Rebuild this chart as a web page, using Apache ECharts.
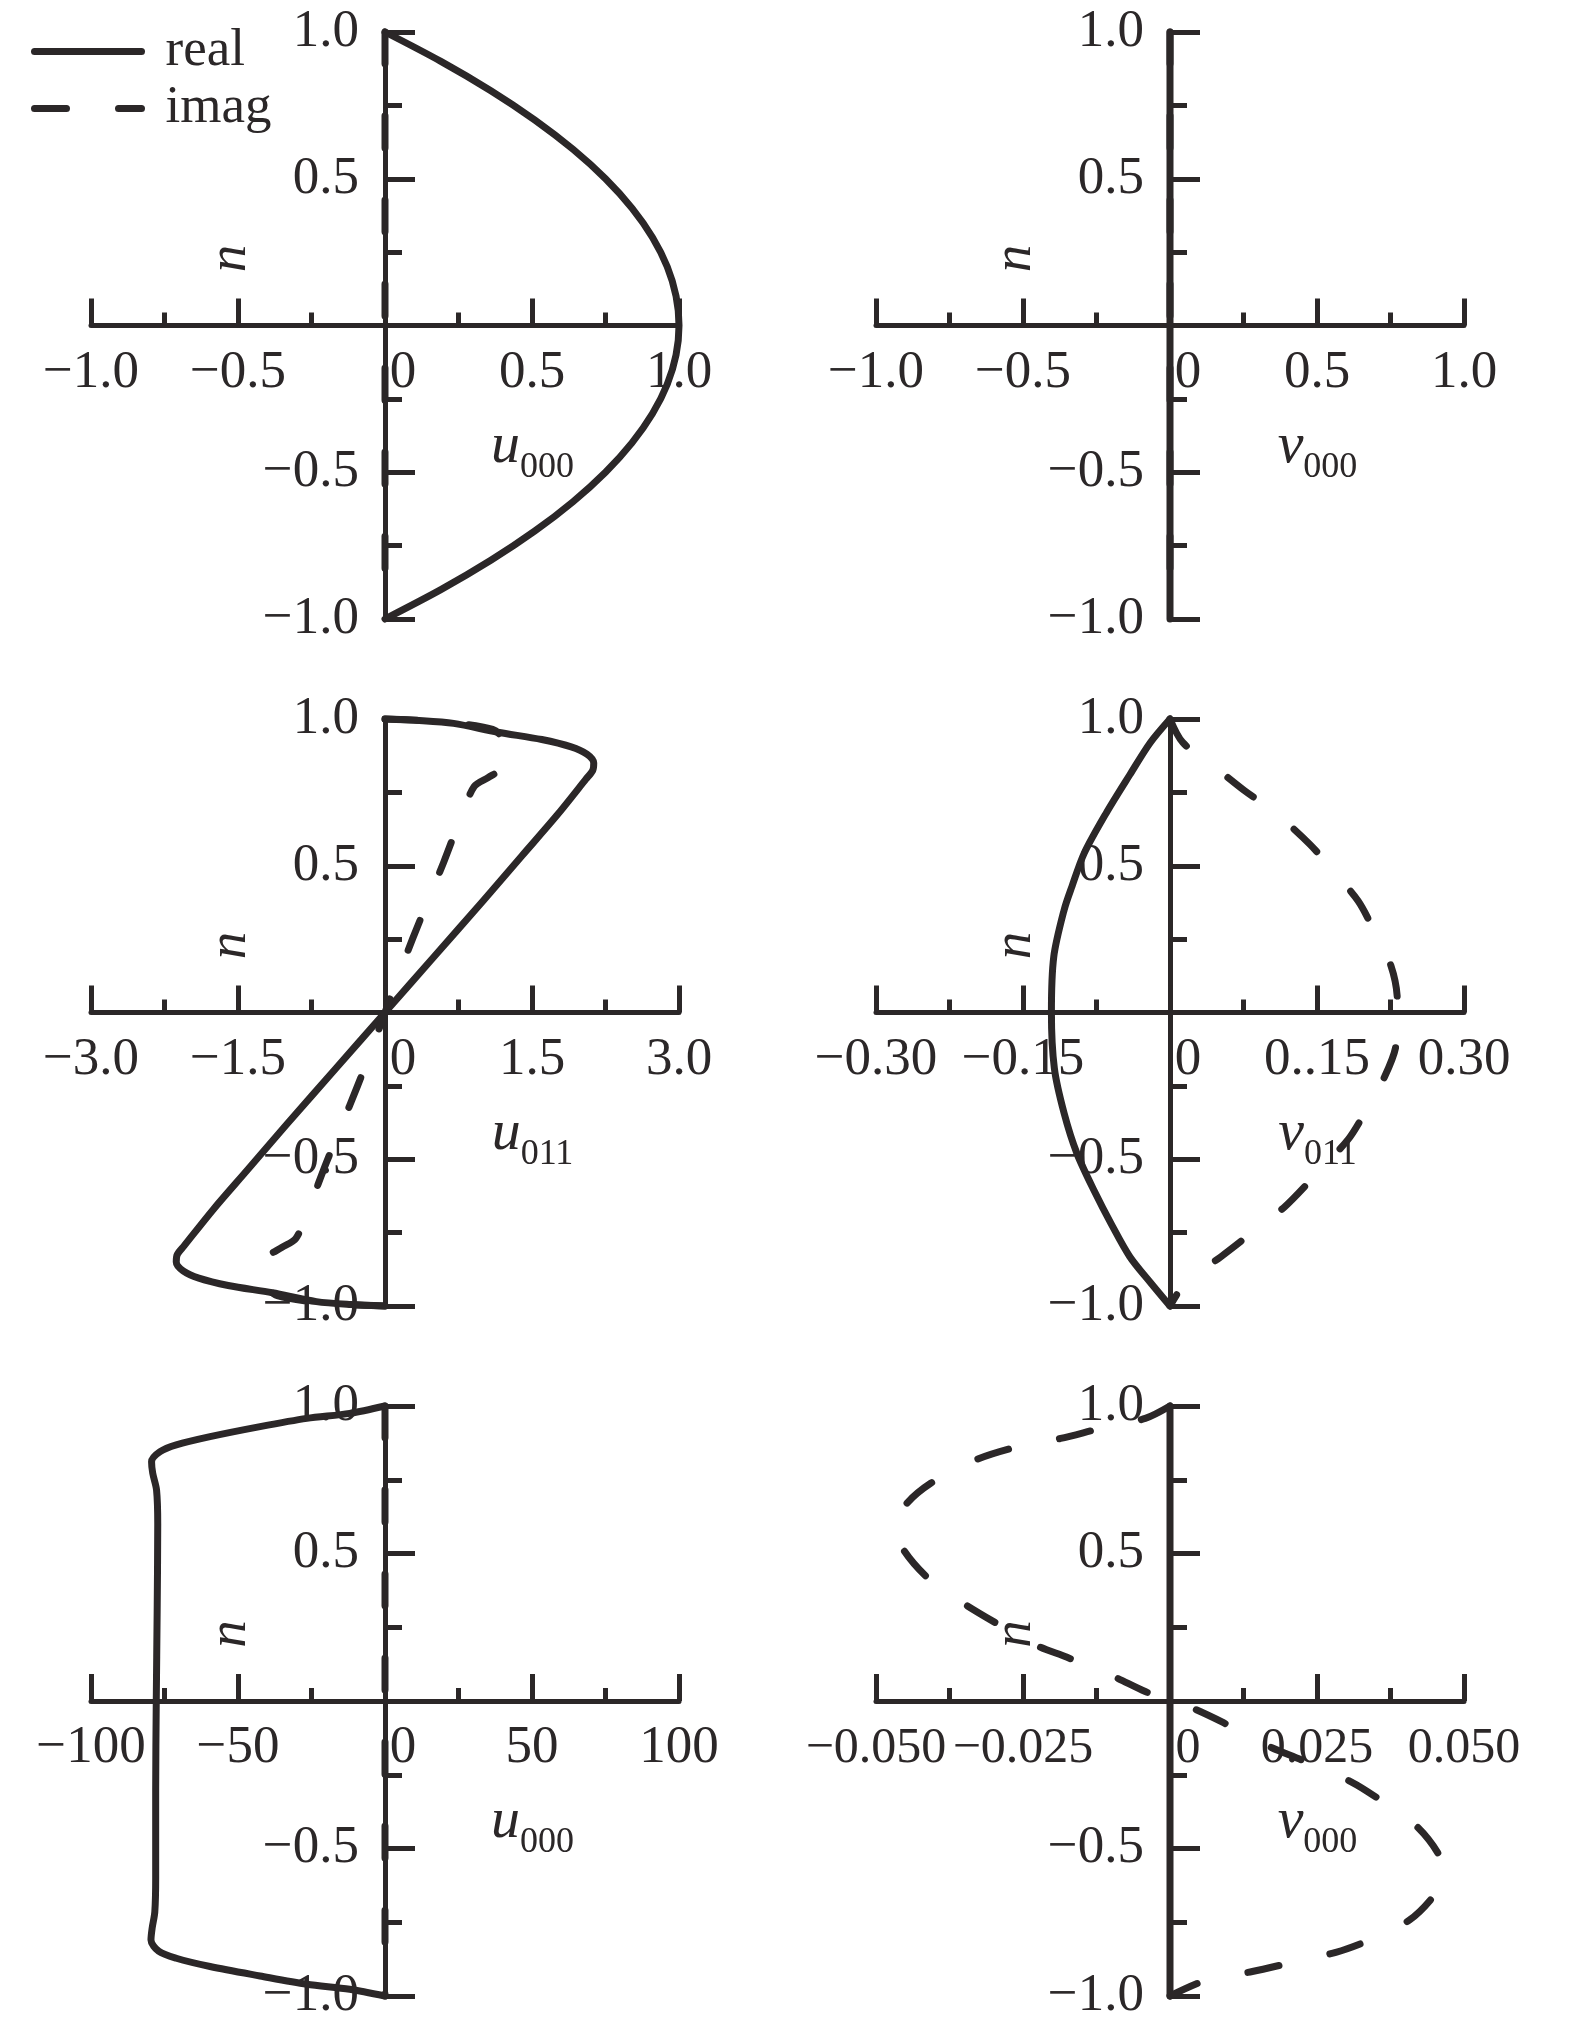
<!DOCTYPE html>
<html><head><meta charset="utf-8">
<script src="https://cdn.jsdelivr.net/npm/echarts@6/dist/echarts.min.js"></script>
<style>html,body{margin:0;padding:0;background:#fff}#c{width:1575px;height:2028px}</style>
</head><body><div id="c"></div>
<script>
// ---------- DATA ----------
const seriesNames = ['real', 'imag'];
const nTickLabels = ['\u22121.0', '\u22120.5', '', '0.5', '1.0'];
const p1XLabels = ['\u22121.0', '\u22120.5', '0', '0.5', '1.0'];
const p2XLabels = ['\u22121.0', '\u22120.5', '0', '0.5', '1.0'];
const p3XLabels = ['\u22123.0', '\u22121.5', '0', '1.5', '3.0'];
const p4XLabels = ['\u22120.30', '\u22120.15', '0', '0..15', '0.30'];
const p5XLabels = ['\u2212100', '\u221250', '0', '50', '100'];
const p6XLabels = ['\u22120.050', '\u22120.025', '0', '0.025', '0.050'];
const axisNames = [['u', '000'], ['v', '000'], ['u', '011'], ['v', '011'], ['u', '000'], ['v', '000']];

// panel 1: u000
const p1RealX = [0, 0.19, 0.36, 0.51, 0.64, 0.75, 0.84, 0.91, 0.96, 0.99, 1.0, 0.99, 0.96, 0.91, 0.84, 0.75, 0.64, 0.51, 0.36, 0.19, 0];
const p1RealN = [1.0, 0.9, 0.8, 0.7, 0.6, 0.5, 0.4, 0.3, 0.2, 0.1, 0, -0.1, -0.2, -0.3, -0.4, -0.5, -0.6, -0.7, -0.8, -0.9, -1.0];
const p1ImagX = [0, 0];
const p1ImagN = [1.0, -1.0];
// panel 2: v000
const p2RealX = [0, 0];
const p2RealN = [1.0, -1.0];
const p2ImagX = [0, 0];
const p2ImagN = [1.0, -1.0];
// panel 3: u011
const p3RealX = [0, 0.35, 0.7, 1.15, 1.6, 1.9, 2.06, 2.13, 2.12, 2.05, 1.75, 1.4, 1.0, 0.5, 0, -0.5, -1.0, -1.4, -1.75, -2.05, -2.12, -2.13, -2.06, -1.9, -1.6, -1.15, -0.7, -0.35, 0];
const p3RealN = [1.0, 0.995, 0.985, 0.955, 0.93, 0.905, 0.88, 0.85, 0.825, 0.795, 0.67, 0.535, 0.38, 0.19, 0, -0.19, -0.38, -0.535, -0.67, -0.795, -0.825, -0.85, -0.88, -0.905, -0.93, -0.955, -0.985, -0.995, -1.0];
const p3ImagX = [0, 0.6, 1.1, 1.2, 1.27, 1.28, 1.2, 1.05, 0.91, 0.78, 0.6, 0.45, 0.28, 0.14, 0, -0.14, -0.28, -0.45, -0.6, -0.78, -0.91, -1.05, -1.2, -1.28, -1.27, -1.2, -1.1, -0.6, 0];
const p3ImagN = [1.0, 0.99, 0.965, 0.935, 0.895, 0.86, 0.83, 0.8, 0.77, 0.67, 0.513, 0.39, 0.25, 0.128, 0, -0.128, -0.25, -0.39, -0.513, -0.67, -0.77, -0.8, -0.83, -0.86, -0.895, -0.935, -0.965, -0.99, -1.0];
// panel 4: v011
const p4RealX = [0, -0.02, -0.041, -0.065, -0.0875, -0.1, -0.108, -0.1186, -0.121, -0.118, -0.108, -0.095, -0.077, -0.06, -0.041, -0.02, 0];
const p4RealN = [1.0, 0.92, 0.81, 0.68, 0.543, 0.43, 0.35, 0.19, 0, -0.19, -0.344, -0.48, -0.61, -0.72, -0.832, -0.92, -1.0];
const p4ImagX = [0, 0.013, 0.042, 0.0755, 0.1065, 0.143, 0.166, 0.192, 0.2075, 0.2255, 0.232, 0.2307, 0.218, 0.197, 0.1816, 0.145, 0.117, 0.0806, 0.052, 0.016, 0];
const p4ImagN = [1.0, 0.92, 0.846, 0.757, 0.683, 0.572, 0.484, 0.38, 0.284, 0.159, 0.04, -0.108, -0.226, -0.352, -0.433, -0.566, -0.662, -0.758, -0.832, -0.92, -1.0];
// panel 5: u000
const p5RealX = [0, -12, -26.6, -42.5, -59.5, -71, -76.5, -79.4, -79, -77.7, -77.3, -77.5, -77.8, -78, -78, -78.3, -79.2, -79.6, -77, -71, -59.5, -42.5, -26.6, -12, 0];
const p5RealN = [1.0, 0.975, 0.958, 0.93, 0.896, 0.868, 0.845, 0.811, 0.772, 0.715, 0.6, 0.3, 0, -0.3, -0.6, -0.715, -0.77, -0.81, -0.848, -0.872, -0.9, -0.932, -0.96, -0.977, -1.0];
const p5ImagX = [0, 0];
const p5ImagN = [1.0, -1.0];
// panel 6: v000
const p6RealX = [0, 0];
const p6RealN = [1.0, -1.0];
const p6ImagX = [0, -0.0042, -0.0118, -0.0186, -0.0263, -0.0331, -0.0407, -0.0453, -0.0462, -0.0458, -0.0413, -0.0356, -0.030, -0.0229, -0.0175, -0.0098, -0.0042, 0, 0.0032, 0.0091, 0.0165, 0.0226, 0.0308, 0.036, 0.042, 0.0459, 0.0465, 0.045, 0.0407, 0.0342, 0.0282, 0.0204, 0.014, 0.0062, 0];
const p6ImagN = [1.0, 0.958, 0.924, 0.89, 0.86, 0.817, 0.738, 0.657, 0.59, 0.529, 0.419, 0.337, 0.269, 0.19, 0.148, 0.085, 0.032, 0, -0.019, -0.0735, -0.151, -0.2017, -0.274, -0.339, -0.426, -0.527, -0.59, -0.657, -0.743, -0.808, -0.852, -0.888, -0.917, -0.946, -1.0];

// ---------- LAYOUT / STYLE ----------
const INK = '#2b2728';
const FONT = 'Liberation Serif';
const TICK_FS = 53;
const X_TICK_FS = [53, 53, 53, 53, 53, 50];
const LINE_W = 7;
const DASH = [32, 52];
const grids = [
  { left: 91, top: 32, width: 588, height: 587 },
  { left: 876, top: 32, width: 588, height: 587 },
  { left: 91, top: 719, width: 588, height: 587 },
  { left: 876, top: 719, width: 588, height: 587 },
  { left: 91, top: 1406, width: 588, height: 590 },
  { left: 876, top: 1406, width: 588, height: 590 }
];
const xScales = [
  { min: -1, max: 1, interval: 0.5, labels: p1XLabels },
  { min: -1, max: 1, interval: 0.5, labels: p2XLabels },
  { min: -3, max: 3, interval: 1.5, labels: p3XLabels },
  { min: -0.3, max: 0.3, interval: 0.15, labels: p4XLabels },
  { min: -100, max: 100, interval: 50, labels: p5XLabels },
  { min: -0.05, max: 0.05, interval: 0.025, labels: p6XLabels }
];
const yScale = { min: -1, max: 1, interval: 0.5 };
const panels = [
  [[p1RealX, p1RealN], [p1ImagX, p1ImagN]],
  [[p2RealX, p2RealN], [p2ImagX, p2ImagN]],
  [[p3RealX, p3RealN], [p3ImagX, p3ImagN]],
  [[p4RealX, p4RealN], [p4ImagX, p4ImagN]],
  [[p5RealX, p5RealN], [p5ImagX, p5ImagN]],
  [[p6RealX, p6RealN], [p6ImagX, p6ImagN]]
];

function zip(xs, ns) { return xs.map((x, i) => [x, ns[i]]); }
// fraction of the axis extent at which value 0 lies (used to sit each axis on the other's zero)
function zeroFrac(s) { return (0 - s.min) / (s.max - s.min); }

const xAxis = xScales.map((s, i) => ({
  type: 'value', gridIndex: i, min: s.min, max: s.max, interval: s.interval,
  position: 'bottom', offset: -grids[i].height * zeroFrac(yScale),
  splitLine: { show: false },
  axisLine: { show: true, onZero: false, lineStyle: { color: INK, width: 5 } },
  axisTick: { show: true, inside: true, length: 27, lineStyle: { color: INK, width: 5 } },
  minorTick: { show: true, splitNumber: 2, length: 13, lineStyle: { color: INK, width: 5 } },
  axisLabel: {
    show: true, margin: 21 + (TICK_FS - X_TICK_FS[i]) / 2, color: INK, fontFamily: FONT,
    fontSize: X_TICK_FS[i], lineHeight: X_TICK_FS[i],
    showMinLabel: true, showMaxLabel: true, hideOverlap: false,
    formatter: function (v) {
      const k = Math.round((v - s.min) / s.interval);
      const t = s.labels[k];
      return t === '0' ? '{z|0}' : t;
    },
    rich: { z: { fontFamily: FONT, fontSize: X_TICK_FS[i], lineHeight: X_TICK_FS[i], color: INK, padding: [0, 0, 0, 36] } }
  },
  name: '{i|' + axisNames[i][0] + '}{s|' + axisNames[i][1] + '}',
  nameLocation: 'middle', nameGap: 92, nameMoveOverlap: false,
  nameTextStyle: {
    padding: [0, 0, 0, 295],
    rich: {
      i: { fontFamily: FONT, fontStyle: 'italic', fontSize: 58, lineHeight: 58, verticalAlign: 'top', color: INK },
      s: { fontFamily: FONT, fontSize: 36, lineHeight: 34, verticalAlign: 'top', padding: [32, 0, 0, 0], color: INK }
    }
  }
}));

const yAxis = grids.map((g, i) => ({
  type: 'value', gridIndex: i, min: yScale.min, max: yScale.max, interval: yScale.interval,
  position: 'left', offset: -g.width * zeroFrac(xScales[i]),
  splitLine: { show: false },
  axisLine: { show: true, onZero: false, lineStyle: { color: INK, width: 5 } },
  axisTick: { show: true, inside: true, length: 30, lineStyle: { color: INK, width: 5 } },
  minorTick: { show: true, splitNumber: 2, length: 17, lineStyle: { color: INK, width: 5 } },
  axisLabel: {
    show: true, margin: 26, color: INK, fontFamily: FONT, fontSize: TICK_FS, lineHeight: TICK_FS,
    showMinLabel: true, showMaxLabel: true, hideOverlap: false, padding: [0, 0, 6, 0],
    formatter: function (v) { return nTickLabels[Math.round((v - yScale.min) / yScale.interval)]; }
  },
  name: 'n', nameLocation: 'middle', nameGap: 127, nameMoveOverlap: false,
  nameTextStyle: { fontFamily: FONT, fontStyle: 'italic', fontSize: 55, lineHeight: 55, color: INK, padding: [0, 0, 0, 134] }
}));

const series = [];
panels.forEach((p, i) => {
  p.forEach((xy, j) => {
    series.push({
      type: 'line', name: seriesNames[j], xAxisIndex: i, yAxisIndex: i,
      data: zip(xy[0], xy[1]), symbol: 'none', showSymbol: false, smooth: 0.3,
      clip: false, z: 3, silent: true,
      itemStyle: { color: INK },
      lineStyle: { color: INK, width: LINE_W, type: j === 0 ? 'solid' : DASH, cap: 'round', join: 'round' }
    });
  });
});

const chart = echarts.init(document.getElementById('c'), null, { renderer: 'canvas' });
chart.setOption({
  animation: false,
  backgroundColor: '#ffffff',
  grid: grids.map(g => Object.assign({ containLabel: false, outerBoundsMode: 'none' }, g)),
  xAxis: xAxis,
  yAxis: yAxis,
  legend: {
    data: [
      { name: seriesNames[0], itemStyle: { opacity: 0 }, lineStyle: { color: INK, width: LINE_W, type: 'solid', cap: 'round' } },
      { name: seriesNames[1], itemStyle: { opacity: 0 }, lineStyle: { color: INK, width: LINE_W, type: DASH, cap: 'round' } }
    ],
    orient: 'vertical', left: 31, top: 25, padding: 0,
    itemWidth: 107, itemHeight: 20, itemGap: 4, selectedMode: false,
    itemStyle: { opacity: 0 },
    textStyle: { fontFamily: FONT, fontSize: 53, lineHeight: 53, color: INK, padding: [0, 0, 0, 19] }
  },
  series: series
});
</script></body></html>
